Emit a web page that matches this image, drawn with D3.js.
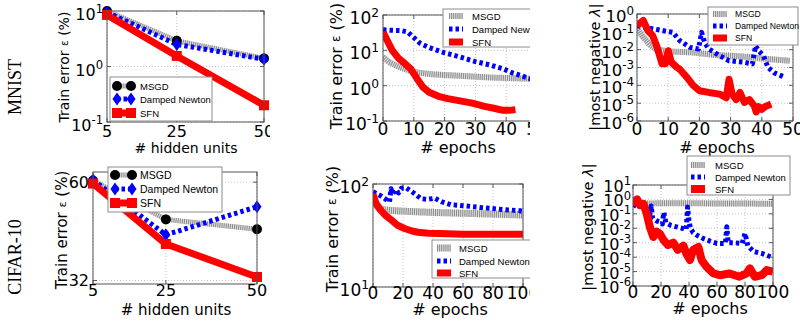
<!DOCTYPE html>
<html>
<head>
<meta charset="utf-8">
<script src="https://cdn.jsdelivr.net/npm/d3@7"></script>
<style>
  body { margin: 0; background: #fff; }
  svg { display: block; }
</style>
</head>
<body>
<svg id="fig" width="800" height="323"></svg>
<script>
// ---- data ----
const hiddenUnits = [5, 25, 50];
const mnistHiddenMSGD = [10, 2.9, 1.4];
const mnistHiddenDamped = [9.5, 2.5, 1.35];
const mnistHiddenSFN = [8.5, 1.55, 0.2];
const cifarHiddenMSGD = [60.5, 49.4, 46.6];
const cifarHiddenDamped = [60.6, 45, 53];
const cifarHiddenSFN = [59.6, 42.4, 33];

// [epoch, train error %]
const mnistErrMSGD = [[0,6.5],[2,4.6],[4,3.8],[6,3.2],[9,2.6],[12,2.3],[16,2.1],[20,2.0],[25,1.9],[30,1.8],[35,1.7],[40,1.65],[45,1.6],[50,1.55]];
const mnistErrDamped = [[0,38],[3,37],[6,36],[8,33],[10,23],[12,16],[15,12],[20,8.5],[25,6.5],[30,4.8],[35,3.8],[39,3.0],[42,2.3],[45,1.9],[49,1.45]];
const mnistErrSFN = [[0,33],[1,22],[3,10],[5,6],[7,4.3],[9,3.0],[11,1.6],[13,0.9],[15,0.65],[18,0.5],[21,0.43],[25,0.37],[29,0.32],[33,0.26],[36,0.23],[39,0.2],[41,0.2],[43,0.21]];

const cifarErrMSGD = [[0,67],[2,62],[4,58],[8,56],[15,55],[25,54],[40,53],[60,52],[80,51],[100,50]];
const cifarErrDamped = [[0,84],[5,77],[8,72],[11,67],[12,90],[13,80],[15,88],[17,82],[19,91],[22,92],[24,88],[26,84],[29,78],[32,72],[36,71],[39,72],[41,73],[46,67],[52,63],[61,61.5],[72,59],[84,57],[98,55],[100,54]];
const cifarErrSFN = [[0,80],[2,65],[5,56],[8,50],[12,45],[16,40],[21,37],[26,35],[30,34],[37,33.2],[44,33],[60,32.5],[80,32.5],[100,32.5]];

// [epoch, |most negative eigenvalue|]
const mnistEigMSGD = [[0,0.16],[2,0.05],[4,0.02],[6,0.011],[10,0.008],[18,0.007],[25,0.005],[30,0.0046],[35,0.004],[40,0.0032],[45,0.0027],[49,0.0024]];
const mnistEigDamped = [[0,0.22],[4,0.16],[8.5,0.115],[11.5,0.093],[13.7,0.032],[17,0.0135],[19.7,0.011],[20.7,0.093],[21.7,0.025],[23,0.011],[26.5,0.0046],[29.5,0.0024],[34,0.002],[37,0.0016],[38,0.0166],[39,0.0087],[40.5,0.0046],[42,0.001],[44,0.0005],[47.5,0.00028]];
const mnistEigSFN = [[0,0.22],[2,0.43],[3.5,0.115],[5,0.063],[6.3,0.0166],[8,0.0016],[9,0.0016],[10,0.0087],[11,0.002],[12.7,0.00105],[13.7,0.0008],[16,0.00028],[18,0.0001],[20,0.00005],[23,0.00004],[26.5,0.000032],[28.6,0.00002],[29.5,0.00022],[30.5,0.000032],[31.8,0.000016],[33,0.00004],[34.4,0.000011],[36,0.000016],[37.6,0.000007],[38.2,0.0000032],[39,0.0000063],[40,0.0000045],[41,0.0000063],[43,0.0000089]];

const cifarEigMSGD = [[0,0.8],[3,0.6],[6,0.5],[20,0.55],[40,0.55],[60,0.52],[80,0.52],[100,0.5]];
const cifarEigDamped = [[0,0.3],[3,0.8],[6,0.5],[10,0.2],[12,0.083],[13,0.35],[14,0.05],[17,0.032],[19,0.028],[21,0.02],[22,0.126],[23.5,0.025],[27,0.016],[31,0.0126],[35,0.01],[38,0.008],[39,0.3],[40,0.032],[41,0.01],[43,0.005],[46,0.0032],[50,0.002],[55,0.0013],[60,0.0009],[66,0.0009],[67,0.0126],[68,0.001],[72,0.001],[78,0.0009],[80,0.0045],[82,0.00063],[86,0.00025],[92,0.00018],[99,0.0001]];
const cifarEigSFN = [[0,0.4],[1.5,0.8],[3,1.0],[5,0.4],[7.4,0.5],[9.8,0.1],[12,0.0126],[14.5,0.0025],[17,0.0058],[19.3,0.004],[21.7,0.0016],[25,0.00068],[28.8,0.001],[32,0.00032],[36,0.00063],[38,0.00018],[40.7,0.000063],[43,0.00032],[46.7,0.0005],[49,0.000063],[52.6,0.000021],[57.4,0.0000074],[62,0.0000056],[69,0.0000074],[76,0.0000044],[81,0.0000074],[83.5,0.0000166],[87,0.0000044],[92,0.0000056],[95.5,0.0000126],[100,0.00001]];

const seriesNames = ["MSGD", "Damped Newton", "SFN"];
const rowLabels = ["MNIST", "CIFAR-10"];
const epochTicks50 = [0, 10, 20, 30, 40, 50];
const epochTicks100 = [0, 20, 40, 60, 80, 100];

// ---- styles ----
const SANS = "DejaVu Sans";
const LEG = "Liberation Sans";
const styles = [
  { color: "#8a8a8a", under: "#dcdcdc", dash: "1,1.1", marker: "circle" },
  { color: "#0000ff", dash: "3.5,3", marker: "diamond" },
  { color: "#ff0000", dash: null, marker: "square" }
];

const svg = d3.select("#fig");

function drawLine(g, pts, st, w, fx, fy) {
  const line = d3.line().x(d => fx(d[0])).y(d => fy(d[1]));
  if (st.under) {
    g.append("path").datum(pts).attr("d", line).attr("fill", "none")
      .attr("stroke", st.under).attr("stroke-width", w);
  }
  g.append("path").datum(pts).attr("d", line).attr("fill", "none")
    .attr("stroke", st.color).attr("stroke-width", w)
    .attr("stroke-dasharray", st.dash)
    .attr("stroke-linejoin", "round");
}

function drawMarker(g, kind, cx, cy) {
  if (kind === "circle") {
    g.append("circle").attr("cx", cx).attr("cy", cy).attr("r", 5).attr("fill", "#000");
  } else if (kind === "diamond") {
    g.append("path").attr("d", `M${cx},${cy - 6.5}L${cx + 4.5},${cy}L${cx},${cy + 6.5}L${cx - 4.5},${cy}Z`)
      .attr("fill", "#0000ff");
  } else {
    g.append("rect").attr("x", cx - 5).attr("y", cy - 5).attr("width", 10).attr("height", 10)
      .attr("fill", "#ff0000");
  }
}

function supLabel(sel, v, fs) {
  const e = Math.round(Math.log10(v));
  sel.text("10");
  sel.append("tspan").attr("dy", -fs * 0.42).attr("font-size", fs * 0.72).text(e < 0 ? "-" + (-e) : e);
}

function drawPanel(p) {
  const g = svg.append("g");
  if (p.bg) g.append("rect").attr("x", p.bg[0]).attr("y", p.bg[1]).attr("width", p.bg[2]).attr("height", p.bg[3]).attr("fill", "#fff");

  const x = d3.scaleLinear().domain(p.xDomain).range([p.left, p.right]);
  const y = (p.log ? d3.scaleLog() : d3.scaleLinear()).domain(p.yDomain).range([p.bottom, p.top]);

  // grid
  const grid = g.append("g").attr("stroke", "#b8b8b8").attr("stroke-width", 0.8).attr("stroke-dasharray", "1,2");
  p.xTicks.forEach(t => grid.append("line").attr("x1", x(t)).attr("x2", x(t)).attr("y1", p.top).attr("y2", p.bottom));
  p.yTicks.forEach(t => grid.append("line").attr("y1", y(t)).attr("y2", y(t)).attr("x1", p.left).attr("x2", p.right));

  // tick marks (inward, all sides)
  const tk = g.append("g").attr("stroke", "#333").attr("stroke-width", 0.8);
  p.xTicks.forEach(t => {
    tk.append("line").attr("x1", x(t)).attr("x2", x(t)).attr("y1", p.bottom).attr("y2", p.bottom - 4);
    tk.append("line").attr("x1", x(t)).attr("x2", x(t)).attr("y1", p.top).attr("y2", p.top + 4);
  });
  p.yTicks.forEach(t => {
    tk.append("line").attr("y1", y(t)).attr("y2", y(t)).attr("x1", p.left).attr("x2", p.left + 4);
    tk.append("line").attr("y1", y(t)).attr("y2", y(t)).attr("x1", p.right).attr("x2", p.right - 4);
  });

  // series
  const clipId = "clip" + p.id;
  g.append("clipPath").attr("id", clipId).append("rect")
    .attr("x", p.left).attr("y", p.top).attr("width", p.right - p.left).attr("height", p.bottom - p.top);
  const sg = g.append("g").attr("clip-path", p.markers ? null : `url(#${clipId})`);
  p.series.forEach((s, i) => drawLine(sg, s, styles[i], p.widths[i], x, y));
  if (p.markers) {
    p.series.forEach((s, i) => s.forEach(d => drawMarker(sg, styles[i].marker, x(d[0]), y(d[1]))));
  }

  // frame
  g.append("rect").attr("x", p.left).attr("y", p.top).attr("width", p.right - p.left).attr("height", p.bottom - p.top)
    .attr("fill", "none").attr("stroke", "#555").attr("stroke-width", 1);

  // tick labels
  const fs = p.tickFs;
  g.append("g").selectAll("text").data(p.xTicks).join("text")
    .attr("x", d => x(d)).attr("y", p.bottom + p.xTickDy)
    .attr("text-anchor", "middle").attr("font-family", SANS).attr("font-size", fs).attr("fill", "#000")
    .text(d => d);
  g.append("g").selectAll("text").data(p.yTicks).join("text")
    .attr("x", p.left - (p.yTickGap || 4)).attr("y", d => y(d) + p.yTickDy)
    .attr("text-anchor", "end").attr("font-family", SANS).attr("font-size", p.yTickFs || fs).attr("fill", "#000")
    .each(function (d) {
      if (p.log) supLabel(d3.select(this), d, p.yTickFs || fs); else d3.select(this).text(d);
    });

  // axis labels
  g.append("text").attr("x", p.xlabelPos[0]).attr("y", p.xlabelPos[1]).attr("text-anchor", "middle")
    .attr("font-family", SANS).attr("font-size", p.labelFs).text(p.xlabel);
  const yfs = p.ylabelFs || p.labelFs;
  const yl = g.append("text").attr("transform", `translate(${p.ylabelPos[0]},${p.ylabelPos[1]}) rotate(-90)`)
    .attr("text-anchor", "middle").attr("dominant-baseline", "central")
    .attr("font-family", SANS).attr("font-size", yfs);
  if (p.ylabel === "err") {
    yl.append("tspan").text("Train error ");
    yl.append("tspan").attr("font-size", yfs * 0.75).text("\u03b5");
    yl.append("tspan").text(" (%)");
  } else {
    yl.append("tspan").text("|most negative ");
    yl.append("tspan").attr("font-style", "italic").text("\u03bb");
    yl.append("tspan").text("|");
  }

  // legend
  const L = p.legend;
  const lg = g.append("g");
  lg.append("rect").attr("x", L.box[0]).attr("y", L.box[1]).attr("width", L.box[2]).attr("height", L.box[3])
    .attr("fill", "#fff").attr("stroke", "#8c8c8c").attr("stroke-width", 1);
  seriesNames.forEach((name, i) => {
    const yy = L.rows[i];
    const id = v => v;
    drawLine(lg, [[L.h[0], yy], [L.h[1], yy]], styles[i], p.widths[i], id, id);
    if (p.markers) {
      drawMarker(lg, styles[i].marker, L.h[0], yy);
      drawMarker(lg, styles[i].marker, L.h[1], yy);
    }
    lg.append("text").attr("x", L.tx).attr("y", yy).attr("dominant-baseline", "central")
      .attr("font-family", LEG).attr("font-size", L.fs).attr("fill", "#000").text(name);
  });
}

function zipHidden(vals) { return hiddenUnits.map((h, i) => [h, vals[i]]); }

const panels = [
  { id: 1, left: 107, right: 264, top: 11, bottom: 122, xDomain: [5, 50], xTicks: hiddenUnits,
    log: true, yDomain: [0.1, 10], yTicks: [0.1, 1, 10], markers: true,
    series: [zipHidden(mnistHiddenMSGD), zipHidden(mnistHiddenDamped), zipHidden(mnistHiddenSFN)],
    widths: [5, 5, 7], tickFs: 16, xTickDy: 15, yTickDy: 9, labelFs: 14,
    xlabel: "# hidden units", xlabelPos: [186, 153], ylabel: "err", ylabelPos: [64, 67],
    legend: { box: [110, 77, 102, 44], rows: [86, 99, 113], h: [117, 131], tx: 140, fs: 9.5 } },
  { id: 2, bg: [270, 0, 262, 162], left: 383, right: 537, top: 15, bottom: 121, xDomain: [0, 50], xTicks: epochTicks50,
    log: true, yDomain: [0.1, 100], yTicks: [0.1, 1, 10, 100],
    series: [mnistErrMSGD, mnistErrDamped, mnistErrSFN],
    widths: [6, 5, 7], tickFs: 17, xTickDy: 14, yTickDy: 9, labelFs: 16,
    xlabel: "# epochs", xlabelPos: [458, 153], ylabel: "err", ylabelPos: [336, 66],
    legend: { box: [443, 9, 100, 38], rows: [16, 29, 42], h: [449, 463], tx: 472, fs: 9.5 } },
  { id: 3, bg: [530, 0, 270, 162], left: 637, right: 793, top: 14, bottom: 121, xDomain: [0, 50], xTicks: epochTicks50,
    log: true, yDomain: [1e-6, 1], yTicks: [1e-6, 1e-5, 1e-4, 1e-3, 1e-2, 1e-1, 1],
    series: [mnistEigMSGD, mnistEigDamped, mnistEigSFN],
    widths: [6, 5, 7], tickFs: 17, yTickFs: 16.5, yTickGap: 3, xTickDy: 14, yTickDy: 8, labelFs: 16, ylabelFs: 14.5,
    xlabel: "# epochs", xlabelPos: [717, 153], ylabel: "eig", ylabelPos: [595, 67],
    legend: { box: [708, 7, 90, 38], rows: [14, 26, 38], h: [713, 727], tx: 735, fs: 8.6 } },
  { id: 4, bg: [0, 162, 270, 161], left: 93, right: 257, top: 172, bottom: 284, xDomain: [5, 50], xTicks: hiddenUnits,
    log: false, yDomain: [31, 62.9], yTicks: [32, 60], markers: true,
    series: [zipHidden(cifarHiddenMSGD), zipHidden(cifarHiddenDamped), zipHidden(cifarHiddenSFN)],
    widths: [5, 5, 7], tickFs: 16, xTickDy: 12, yTickDy: 6, labelFs: 15,
    xlabel: "# hidden units", xlabelPos: [176, 315], ylabel: "err", ylabelPos: [62, 230],
    legend: { box: [108, 167, 114, 45], rows: [175, 189, 203], h: [115, 132], tx: 140, fs: 10.5 } },
  { id: 5, bg: [270, 162, 262, 161], left: 373, right: 523, top: 184, bottom: 287, xDomain: [0, 100], xTicks: epochTicks100,
    log: true, yDomain: [10, 100], yTicks: [10, 100],
    series: [cifarErrMSGD, cifarErrDamped, cifarErrSFN],
    widths: [7, 5, 7], tickFs: 17, xTickDy: 12, yTickDy: 9, labelFs: 16,
    xlabel: "# epochs", xlabelPos: [450, 315], ylabel: "err", ylabelPos: [332, 229],
    legend: { box: [432, 240, 105, 38], rows: [248, 261, 273], h: [437, 451], tx: 459, fs: 9.5 } },
  { id: 6, bg: [530, 162, 270, 161], left: 633, right: 773, top: 185, bottom: 286, xDomain: [0, 100], xTicks: epochTicks100,
    log: true, yDomain: [1e-6, 10], yTicks: [1e-6, 1e-5, 1e-4, 1e-3, 1e-2, 1e-1, 1, 10],
    series: [cifarEigMSGD, cifarEigDamped, cifarEigSFN],
    widths: [6, 5, 8], tickFs: 17, yTickFs: 16, yTickGap: 2, xTickDy: 12, yTickDy: 7, labelFs: 16, ylabelFs: 14.5,
    xlabel: "# epochs", xlabelPos: [710, 314], ylabel: "eig", ylabelPos: [588, 227],
    legend: { box: [687, 156, 103, 39], rows: [165, 177, 189], h: [691, 705], tx: 715, fs: 9.5 } }
];

panels.forEach(drawPanel);

// row labels
svg.selectAll("text.row").data(rowLabels).join("text").attr("class", "row")
  .attr("transform", (d, i) => `translate(15,${i === 0 ? 87 : 257}) rotate(-90)`)
  .attr("text-anchor", "middle").attr("dominant-baseline", "central")
  .attr("font-family", "Liberation Serif").attr("font-size", 18).text(d => d);
</script>
</body>
</html>
